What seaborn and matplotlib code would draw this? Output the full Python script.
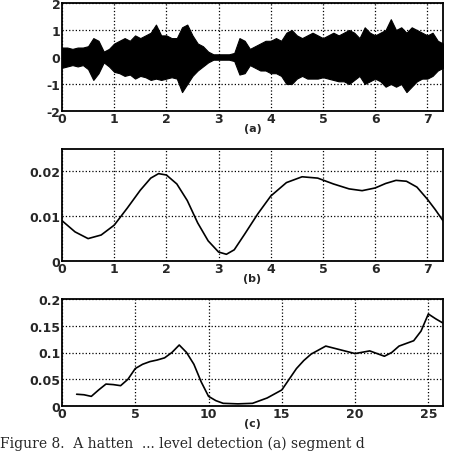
import numpy as np
import pandas as pd
import matplotlib
matplotlib.use("Agg")
import matplotlib.pyplot as plt
import seaborn as sns

sns.set_style("white")
plt.rcParams['font.family'] = ['DejaVu Sans']
plt.rcParams['font.weight'] = 'bold'
plt.rcParams['axes.unicode_minus'] = False

# (a) waveform envelope
t_a = [round(0.1 * i, 1) for i in range(74)]
upper_a = [0.35,0.35,0.3,0.35,0.35,0.4,0.7,0.6,0.2,0.3,0.5,0.6,0.7,0.6,0.8,0.7,0.8,0.9,1.2,0.8,
           0.8,0.7,0.7,1.1,1.2,0.8,0.5,0.4,0.2,0.1,0.1,0.1,0.1,0.15,0.7,0.6,0.3,0.4,0.5,0.6,
           0.6,0.7,0.6,0.9,1.0,0.8,0.7,0.8,0.9,0.8,0.7,0.8,0.9,0.8,0.9,1.0,0.9,0.7,1.1,0.9,
           0.8,0.9,1.0,1.4,1.0,1.1,0.9,1.1,1.0,0.9,0.8,0.9,0.6,0.5]
lower_a = [-0.4,-0.35,-0.3,-0.35,-0.3,-0.45,-0.85,-0.6,-0.2,-0.35,-0.55,-0.6,-0.7,-0.65,-0.8,-0.7,-0.75,-0.85,-0.8,-0.85,
           -0.8,-0.75,-0.8,-1.3,-1.0,-0.7,-0.5,-0.35,-0.2,-0.1,-0.1,-0.1,-0.1,-0.15,-0.65,-0.6,-0.3,-0.4,-0.5,-0.5,
           -0.6,-0.6,-0.7,-1.0,-1.0,-0.8,-0.7,-0.8,-0.8,-0.8,-0.75,-0.8,-0.85,-0.9,-0.9,-1.0,-0.85,-0.7,-1.0,-0.9,
           -0.8,-0.9,-1.1,-1.0,-1.1,-1.0,-1.3,-1.1,-0.9,-0.8,-0.8,-0.7,-0.5,-0.4]

# (b)
t_b = [0,0.25,0.5,0.75,1.0,1.25,1.5,1.7,1.85,2.0,2.2,2.4,2.6,2.8,3.0,3.15,3.3,3.5,3.75,4.0,4.3,4.6,4.9,5.2,5.5,5.75,6.0,6.2,6.4,6.6,6.8,7.0,7.15,7.3]
y_b = [0.009,0.0065,0.005,0.0058,0.008,0.0118,0.0158,0.0185,0.0195,0.0192,0.0172,0.0135,0.0085,0.0045,0.002,0.0015,0.0025,0.006,0.0105,0.0145,0.0175,0.0188,0.0185,0.0172,0.0161,0.0157,0.0163,0.0173,0.018,0.0178,0.0165,0.0138,0.0115,0.009]

# (c)
t_c = [1,1.5,2,2.5,3,3.5,4,4.5,5,5.5,6,6.5,7,7.5,8,8.5,9,9.5,10,10.5,11,12,13,14,15,15.5,16,16.5,17,18,19,20,21,22,22.5,23,24,24.5,25,25.5,26]
y_c = [0.022,0.021,0.018,0.03,0.041,0.04,0.038,0.05,0.07,0.078,0.083,0.086,0.09,0.1,0.114,0.1,0.078,0.045,0.018,0.01,0.005,0.004,0.005,0.015,0.03,0.05,0.07,0.085,0.097,0.112,0.105,0.098,0.103,0.093,0.1,0.112,0.122,0.14,0.172,0.163,0.155]

fig = plt.figure(figsize=(4.74, 4.56), dpi=100)
W, H = 474, 456
def ax_at(l, t, r, b):
    return fig.add_axes([l / W, 1 - b / H, (r - l) / W, (b - t) / H])

ax1 = ax_at(62, 4, 443, 112)
ax2 = ax_at(62, 150, 443, 262)
ax3 = ax_at(62, 300, 443, 407)

ax1.fill_between(t_a, lower_a, upper_a, color='black', linewidth=0.8)
ax1.set_xlim(0, 7.3); ax1.set_ylim(-2, 2)
ax1.set_xticks(range(8)); ax1.set_yticks([-2, -1, 0, 1, 2])

sns.lineplot(x=t_b, y=y_b, ax=ax2, color='black', linewidth=1.2)
ax2.set_xlim(0, 7.3); ax2.set_ylim(0, 0.025)
ax2.set_xticks(range(8)); ax2.set_yticks([0, 0.01, 0.02])
ax2.set_yticklabels(['0', '0.01', '0.02'])

sns.lineplot(x=t_c, y=y_c, ax=ax3, color='black', linewidth=1.2)
ax3.set_xlim(0, 26); ax3.set_ylim(0, 0.2)
ax3.set_xticks([0, 5, 10, 15, 20, 25]); ax3.set_yticks([0, 0.05, 0.1, 0.15, 0.2])
ax3.set_yticklabels(['0', '0.05', '0.1', '0.15', '0.2'])

for ax, lab in [(ax1, '(a)'), (ax2, '(b)'), (ax3, '(c)')]:
    ax.grid(True, color='black', linestyle=':', linewidth=0.9)
    ax.tick_params(direction='in', labelsize=9, length=3, pad=1)
    for s in ax.spines.values():
        s.set_linewidth(1.3); s.set_color('black')
    ax.set_xlabel(lab, fontsize=8, fontweight='bold', labelpad=-2)
    ax.set_ylabel('')

fig.text(0.0, (456 - 451) / H, 'Figure 8.  A hatten  ... level detection (a) segment d',
         fontsize=10, family='DejaVu Serif', fontweight='normal', va='bottom')
fig.savefig('out.png', dpi=100)
